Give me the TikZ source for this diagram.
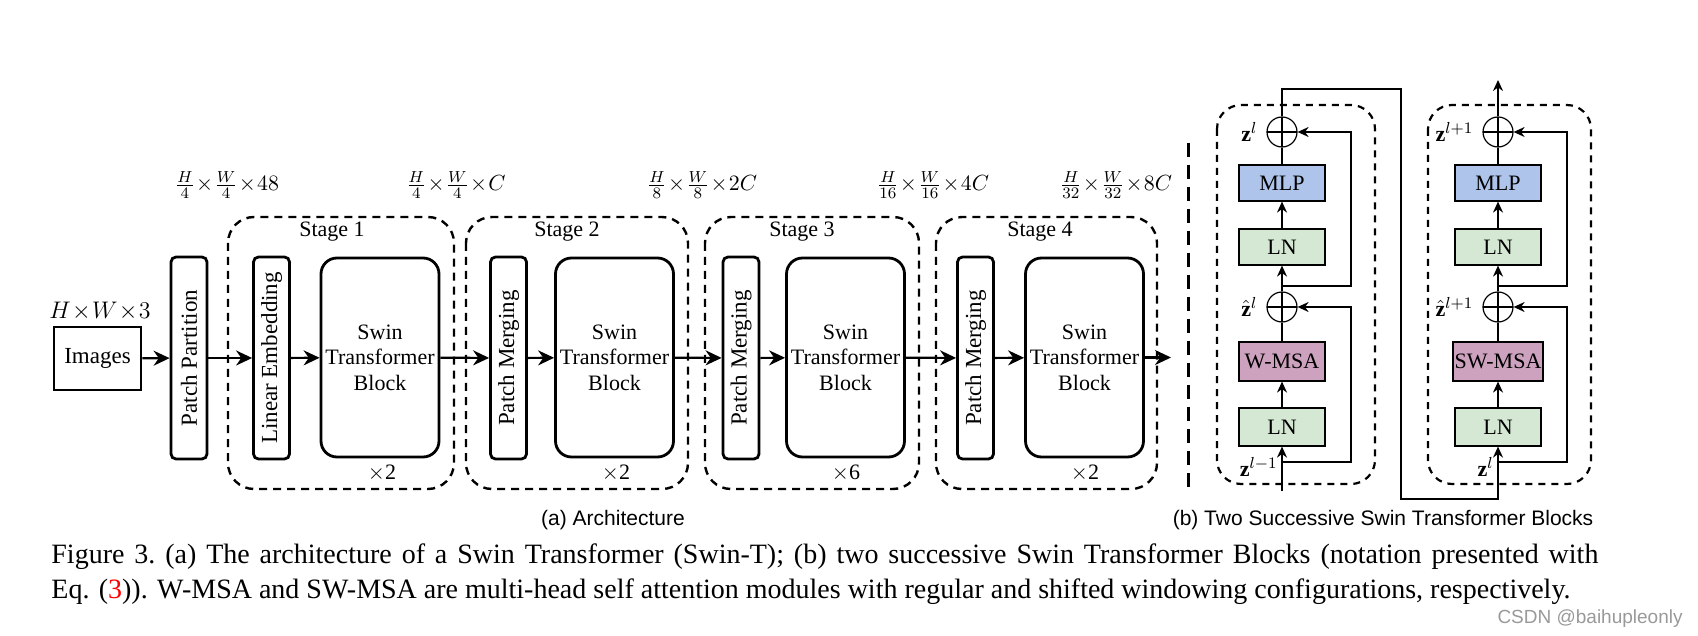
\documentclass[tikz,border=0pt]{standalone}
\usepackage{fontspec}
\setmainfont{Liberation Serif}
\newfontfamily\sansf{Liberation Sans}
\usepackage{amsmath,amssymb}
\usetikzlibrary{arrows.meta}
\definecolor{mlpc}{HTML}{AEC4EA}
\definecolor{lnc}{HTML}{D5E8D4}
\definecolor{msac}{HTML}{CDA2BE}
\tikzset{
  fnt/.style={font=\fontsize{11}{12.8}\selectfont},
  tall/.style={draw,line width=1.4pt,rounded corners=2.5pt,minimum width=101pt,minimum height=18pt,inner sep=0pt,rotate=90,font=\fontsize{11.5}{13}\selectfont},
  stb/.style={draw,line width=1.4pt,rounded corners=8pt,minimum width=59pt,minimum height=99.5pt,align=center,inner sep=0pt,fnt},
  stage/.style={draw,line width=1.2pt,dash pattern=on 4pt off 3pt,rounded corners=13pt},
  arr/.style={line width=1.1pt,-{Stealth[length=8pt,width=7.5pt]}},
  sbox/.style={draw,line width=0.6pt,minimum width=43pt,minimum height=18pt,inner sep=0pt,fnt},
  plus/.style={draw,circle,line width=0.6pt,minimum size=15pt,inner sep=0pt,
    path picture={\draw[line width=0.6pt] (path picture bounding box.north)--(path picture bounding box.south) (path picture bounding box.west)--(path picture bounding box.east);}},
  thin/.style={line width=0.6pt},
  tarr/.style={line width=0.7pt,-{Stealth[length=5.5pt,width=5pt]}},
  blk/.style={draw,line width=1.1pt,dash pattern=on 3.5pt off 3pt,rounded corners=12pt},
}
\begin{document}
\begin{tikzpicture}[x=0.5pt,y=-0.5pt]
\useasboundingbox (0,0) rectangle (1698,636);
% ---------- (a) ----------
\node[draw,line width=1.4pt,minimum width=43.5pt,minimum height=31.5pt,inner sep=0pt,font=\fontsize{11.5}{13}\selectfont] (img) at (97.5,358.5) {Images};
\node[font=\fontsize{11.5}{13}\selectfont,anchor=base] (hw3) at (100,319) {$H\!\times\! W\!\times\! 3$};
\node[tall] (pp) at (189,358) {Patch Partition};
\node[tall] (le) at (271.5,358) {Linear Embedding};
\node[stb] (s1) at (380,357.5) {Swin\\Transformer\\Block};
\node[tall] (pm2) at (508.5,358) {Patch Merging};
\node[stb] (s2) at (614.5,357.5) {Swin\\Transformer\\Block};
\node[tall] (pm3) at (741,358) {Patch Merging};
\node[stb] (s3) at (845.5,357.5) {Swin\\Transformer\\Block};
\node[tall] (pm4) at (975.5,358) {Patch Merging};
\node[stb] (s4) at (1084.5,357.5) {Swin\\Transformer\\Block};
\coordinate (out) at (1171,357.5);
\foreach \a/\b in {img/pp,pp/le,le/s1,s1/pm2,pm2/s2,s2/pm3,pm3/s3,s3/pm4,pm4/s4,s4/out}
  \draw[arr] (\a) -- (\b);
\draw[stage] (228,217) rectangle (454,489);
\draw[stage] (466,217) rectangle (688,489);
\draw[stage] (705,217) rectangle (919,489);
\draw[stage] (936,217) rectangle (1157,489);
\foreach \x/\n/\t in {332/1/1,567/2/2,802/3/3,1040/4/4}
  \node[fnt] (st\n) at (\x,232) {Stage \t};
\foreach \x/\n/\t in {382/1/2,616/2/2,846/3/6,1085/4/2}
  \node[fnt] (rep\n) at (\x,473) {$\times$\t};
\node[fnt] (d1) at (227,185) {$\frac{H}{4}\!\times\!\frac{W}{4}\!\times\!48$};
\node[fnt] (d2) at (456,185) {$\frac{H}{4}\!\times\!\frac{W}{4}\!\times\! C$};
\node[fnt] (d3) at (702,185) {$\frac{H}{8}\!\times\!\frac{W}{8}\!\times\! 2C$};
\node[fnt] (d4) at (933,185) {$\frac{H}{16}\!\times\!\frac{W}{16}\!\times\! 4C$};
\node[fnt] (d5) at (1116,185) {$\frac{H}{32}\!\times\!\frac{W}{32}\!\times\! 8C$};
% separator
\draw[line width=1.5pt,dash pattern=on 7pt off 4pt] (1188,143) -- (1188,490);
% ---------- (b) block 1 ----------
\draw[blk] (1217,105) rectangle (1375,484);
\node[plus] (ca) at (1282,132) {};
\node[sbox,fill=mlpc] (mlpa) at (1282,183) {MLP};
\node[sbox,fill=lnc] (ln2a) at (1282,247) {LN};
\node[plus] (cb) at (1282,307) {};
\node[sbox,fill=msac,minimum height=19.5pt] (msaa) at (1282,361.5) {W-MSA};
\node[sbox,fill=lnc,minimum height=19pt] (ln1a) at (1282,427) {LN};
\coordinate (ina) at (1282,491);
\coordinate (r1a) at (1282,462);
\coordinate (r2a) at (1282,286);
\draw[tarr] (ina) -- (ln1a);
\draw[tarr] (ln1a) -- (msaa);
\draw[thin] (msaa) -- (cb);
\draw[tarr] (cb) -- (ln2a);
\draw[tarr] (ln2a) -- (mlpa);
\draw[thin] (mlpa) -- (ca);
\draw[tarr] (r1a) -- (1351,462) |- (cb.east);
\draw[tarr] (r2a) -- (1351,286) |- (ca.east);
\node[fnt,anchor=east] (za) at ([xshift=-1pt]ca.west) {$\mathbf{z}^{l}$};
\node[fnt,anchor=east] (zha) at ([xshift=-1pt]cb.west) {$\hat{\mathbf{z}}^{l}$};
\node[fnt,anchor=east,inner sep=1pt] (zia) at (1280,467) {$\mathbf{z}^{l-1}$};
% ---------- block 2 ----------
\draw[blk] (1428,105) rectangle (1591,484);
\node[plus] (cc) at (1498,132) {};
\node[sbox,fill=mlpc] (mlpb) at (1498,183) {MLP};
\node[sbox,fill=lnc] (ln2b) at (1498,247) {LN};
\node[plus] (cd) at (1498,307) {};
\node[sbox,fill=msac,minimum width=45pt,minimum height=19.5pt] (msab) at (1498,361.5) {SW-MSA};
\node[sbox,fill=lnc,minimum height=19pt] (ln1b) at (1498,427) {LN};
\coordinate (r1b) at (1498,462);
\coordinate (r2b) at (1498,286);
\coordinate (outb) at (1498,80);
\draw[tarr] (ca.north) -- (1282,89) -- (1401,89) -- (1401,499) -| (ln1b.south);
\draw[tarr] (ln1b) -- (msab);
\draw[thin] (msab) -- (cd);
\draw[tarr] (cd) -- (ln2b);
\draw[tarr] (ln2b) -- (mlpb);
\draw[thin] (mlpb) -- (cc);
\draw[tarr] (r1b) -- (1567,462) |- (cd.east);
\draw[tarr] (r2b) -- (1567,286) |- (cc.east);
\draw[tarr] (cc) -- (outb);
\node[fnt,anchor=east] (zb) at ([xshift=-1pt]cc.west) {$\mathbf{z}^{l+1}$};
\node[fnt,anchor=east] (zhb) at ([xshift=-1pt]cd.west) {$\hat{\mathbf{z}}^{l+1}$};
\node[fnt,anchor=east,inner sep=1pt] (zib) at (1496,467) {$\mathbf{z}^{l}$};
% ---------- captions ----------
\node[font=\sansf\fontsize{10.5}{12.5}\selectfont] (capa) at (613,520) {(a) Architecture};
\node[font=\sansf\fontsize{10.5}{12.5}\selectfont] (capb) at (1383,520) {(b) Two Successive Swin Transformer Blocks};
\node[anchor=base west,inner sep=0pt] (cap) at (51,563) {\parbox[t]{773.5pt}{\fontsize{14}{17.5}\selectfont Figure 3.\ (a) The architecture of a Swin Transformer (Swin-T); (b) two successive Swin Transformer Blocks (notation presented with\linebreak Eq. (\textcolor{red}{3})). W-MSA and SW-MSA are multi-head self attention modules with regular and shifted windowing configurations, respectively.}};
\node[anchor=base east,inner sep=0pt,text=black!40,font=\sansf\fontsize{9.5}{11}\selectfont] (wm) at (1683,623) {CSDN @baihupleonly};
\end{tikzpicture}
\end{document}
